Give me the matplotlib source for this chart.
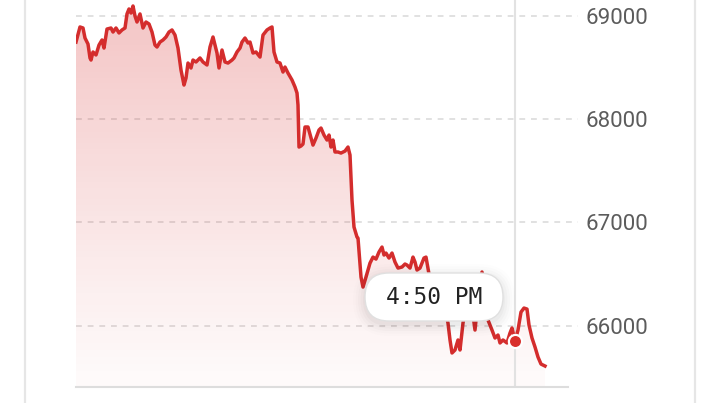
import numpy as np
import matplotlib
matplotlib.use("Agg")
import matplotlib.pyplot as plt
from matplotlib.patches import FancyBboxPatch, Polygon
from matplotlib.transforms import IdentityTransform
from matplotlib.lines import Line2D

# ---- data (time offset, price) ----
t = [0, 4, 7, 9, 12, 14, 15, 17, 20, 23, 26, 28, 31, 35, 37, 40, 43, 46, 49, 51, 53, 55, 57,
     59, 61, 64, 67, 70, 73, 76, 79, 81, 84, 87, 90, 93, 96, 99, 102, 105, 108, 110, 112,
     115, 117, 120, 124, 127, 131, 134, 137, 141, 143, 146, 149, 152, 156, 158, 161, 164,
     166, 169, 172, 174, 177, 180, 184, 187, 191, 194, 196, 198, 201, 204, 207, 209, 212,
     216, 219, 221, 222, 223, 225, 227, 229, 232, 235, 237, 240, 243, 245, 248, 251, 253,
     255, 257, 259, 262, 265, 269, 272, 274, 276, 277, 278, 281, 282, 284, 285, 287, 290,
     294, 297, 300, 303, 306, 308, 310, 313, 316, 319, 322, 326, 329, 331, 334, 337, 339,
     341, 344, 346, 348, 350, 353, 356, 361, 365, 369, 372, 374, 376, 379, 382, 384, 387,
     390, 394, 397, 399, 402, 406, 409, 412, 416, 419, 422, 424, 427, 431, 434, 436, 439,
     442, 445, 448, 451, 453, 456, 459, 462, 465, 469]
price = [68743, 68889, 68879, 68782, 68724, 68589, 68569, 68647, 68618, 68714, 68763, 68685,
         68869, 68879, 68840, 68879, 68831, 68860, 68879, 69015, 69063, 69024, 69092, 68995,
         68937, 69015, 68879, 68937, 68918, 68840, 68714, 68695, 68743, 68763, 68792, 68840,
         68860, 68811, 68685, 68472, 68327, 68395, 68540, 68492, 68569, 68550, 68589, 68550,
         68521, 68695, 68792, 68637, 68492, 68666, 68550, 68540, 68569, 68589, 68647, 68685,
         68743, 68782, 68734, 68743, 68637, 68647, 68598, 68811, 68860, 68879, 68889, 68647,
         68550, 68540, 68453, 68501, 68443, 68376, 68308, 68250, 68134, 67727, 67737, 67756,
         67921, 67921, 67814, 67746, 67814, 67892, 67911, 67843, 67795, 67843, 67727, 67795,
         67679, 67679, 67669, 67688, 67727, 67650, 67214, 67088, 66953, 66856, 66846, 66585,
         66469, 66372, 66469, 66604, 66662, 66643, 66711, 66759, 66682, 66701, 66653, 66701,
         66614, 66556, 66566, 66595, 66585, 66556, 66662, 66614, 66537, 66556, 66604, 66653,
         66662, 66498, 66430, 66372, 66305, 66160, 66023, 65860, 65734, 65763, 65860, 65763,
         66024, 66198, 66247, 66102, 65956, 66247, 66518, 66295, 66053, 65956, 65879, 65908,
         65831, 65860, 65831, 65927, 65976, 65850, 65956, 66130, 66169, 66159, 66005, 65879,
         65792, 65695, 65627, 65608]
yticks = [66000, 67000, 68000, 69000]
ytick_labels = ["66000", "67000", "68000", "69000"]
hover_time = 439
hover_label = "4:50 PM"

X_MIN, X_MAX = 0, 492
Y_MIN, Y_MAX = 65405, 69150

W, H = 719, 403
fig = plt.figure(figsize=(W / 100, H / 100), dpi=100)
fig.patch.set_facecolor("white")

# page-level light vertical rules
for xp in (25, 695):
    fig.add_artist(Line2D([xp / W, xp / W], [0, 1], transform=fig.transFigure,
                          color="#e6e6e6", lw=1.6, zorder=0))

ax = fig.add_axes([76 / W, 16 / H, 492 / W, 387 / H])
ax.set_xlim(X_MIN, X_MAX)
ax.set_ylim(Y_MIN, Y_MAX)
ax.set_facecolor("none")

# gradient fill under the line
verts = [(t[0], Y_MIN)] + list(zip(t, price)) + [(t[-1], Y_MIN)]
poly = Polygon(verts, closed=True, facecolor="none", edgecolor="none")
ax.add_patch(poly)
n = 256
g = np.linspace(1, 0, n)
rgba = np.zeros((n, 1, 4))
rgba[..., 0] = 0.84
rgba[..., 1] = 0.17
rgba[..., 2] = 0.17
rgba[..., 3] = (0.02 + 0.26 * g ** 1.1)[:, None]
im = ax.imshow(rgba, extent=[X_MIN, X_MAX, Y_MIN, Y_MAX], aspect="auto",
               origin="upper", zorder=1, interpolation="bilinear")
im.set_clip_path(poly)

# dashed grid lines extending slightly beyond the plot
for v in yticks:
    ax.plot([0, 502 / 492], [v, v], transform=ax.get_yaxis_transform(),
            ls=(0, (3.5, 3.5)), color="#dcdcdc", lw=1.2, clip_on=False, zorder=0.5)

# crosshair
ax.axvline(hover_time, color="#e2e2e2", lw=1.5, zorder=2)

# price line
ax.plot(t, price, color="#d42d2d", lw=2.5, solid_joinstyle="round", zorder=3)

# hover dot
hi = t.index(hover_time)
ax.plot([t[hi]], [price[hi]], "o", ms=9.5, mfc="#d9302c", mec="white", mew=1.6, zorder=6)

# axes styling
for s in ("left", "right", "top"):
    ax.spines[s].set_visible(False)
ax.spines["bottom"].set_color("#dddddd")
ax.spines["bottom"].set_linewidth(1.5)
ax.set_xticks([])
ax.yaxis.tick_right()
ax.set_yticks(yticks)
ax.set_yticklabels(ytick_labels, fontfamily=["Roboto", "DejaVu Sans"], fontsize=16,
                   color="#5c5c5c")
ax.tick_params(axis="y", length=0, pad=12.3)

# tooltip pill
bx, by, bw, bh = 365, H - 321, 138, 48
for i, a in enumerate([0.025, 0.02, 0.016, 0.012, 0.008]):
    grow = 2 + 2.5 * i
    sh = FancyBboxPatch((bx - grow, by - 3 - grow), bw + 2 * grow, bh + 2 * grow,
                        boxstyle=f"round,pad=0,rounding_size={bh / 2 + grow}",
                        transform=IdentityTransform(), facecolor="black", edgecolor="none",
                        alpha=a, zorder=7)
    fig.add_artist(sh)
box = FancyBboxPatch((bx, by), bw, bh, boxstyle=f"round,pad=0,rounding_size={bh / 2}",
                     transform=IdentityTransform(), facecolor="white", edgecolor="#e0e0e0",
                     lw=1.0, zorder=8)
fig.add_artist(box)
fig.text((bx + bw / 2) / W, (by + bh / 2) / H, hover_label,
         fontfamily=["DejaVu Sans Mono"], fontsize=16.5, color="#222222",
         ha="center", va="center", zorder=9)

fig.savefig("out.png", dpi=100)
